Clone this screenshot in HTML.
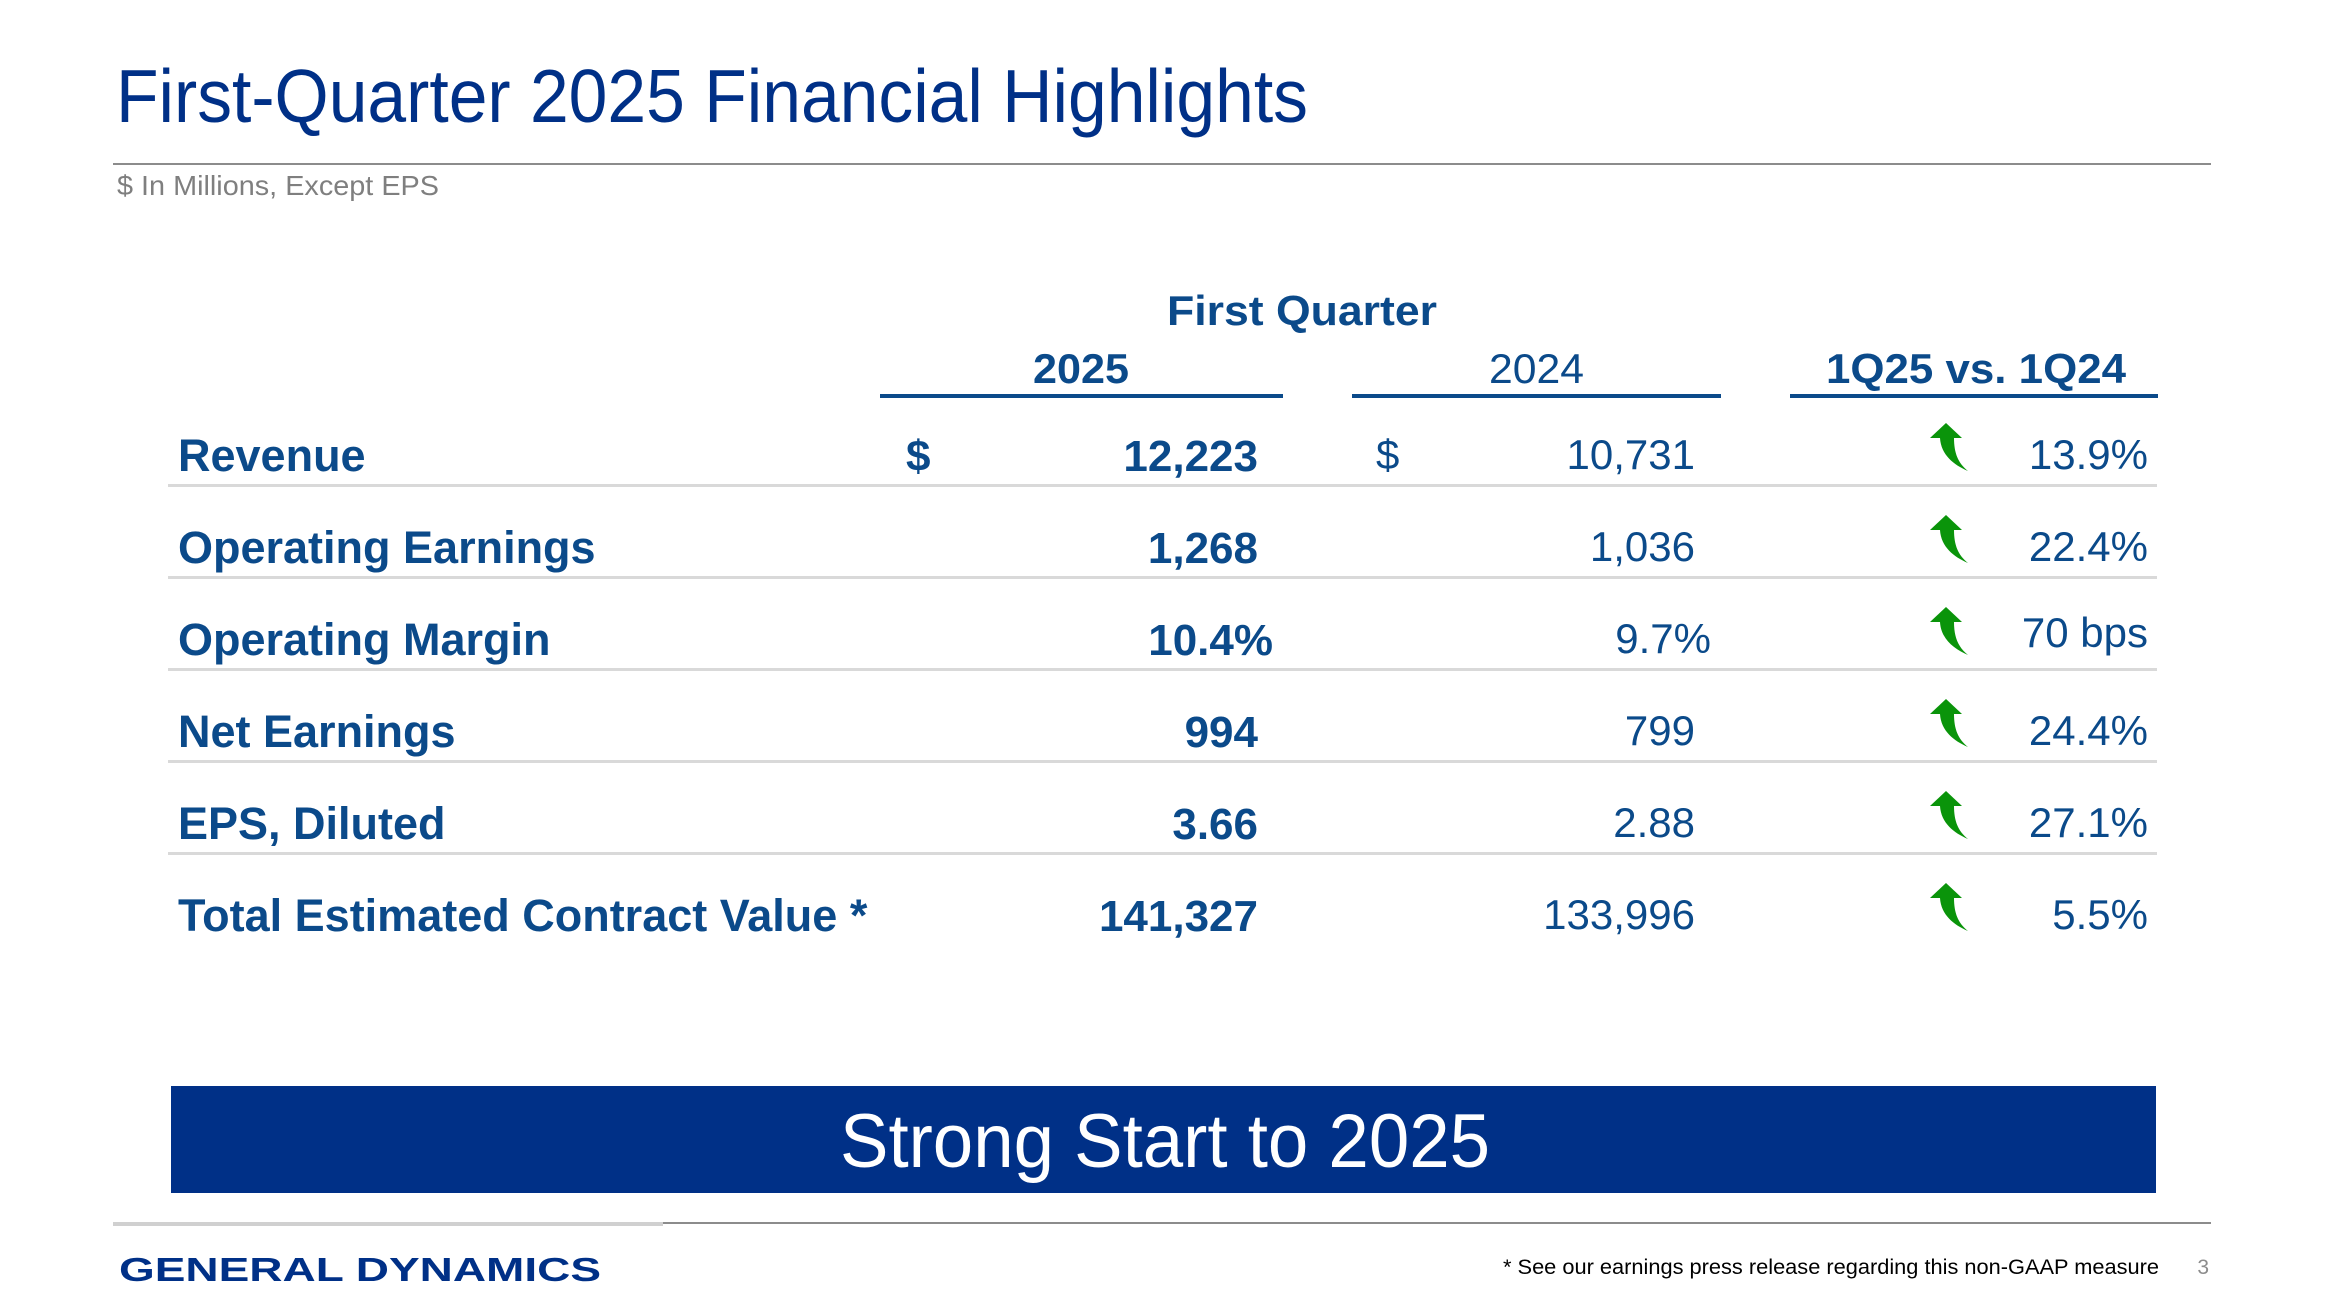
<!DOCTYPE html>
<html><head><meta charset="utf-8"><style>
html,body{margin:0;padding:0;background:#fff;}
svg{display:block;font-family:"Liberation Sans",Arial,sans-serif;}
</style></head><body>
<svg id="slide" width="2327" height="1309" viewBox="0 0 2327 1309" xmlns="http://www.w3.org/2000/svg">
<text x="116" y="122" font-size="75" fill="#003087" textLength="1192" lengthAdjust="spacingAndGlyphs">First-Quarter 2025 Financial Highlights</text>
<rect x="113" y="163" width="2098" height="2" fill="#8c8c8c"/>
<text x="117" y="195" font-size="28" fill="#7f7f7f" textLength="322" lengthAdjust="spacingAndGlyphs">$ In Millions, Except EPS</text>

<text x="1167" y="325" font-size="42" font-weight="bold" fill="#0b4a8a" textLength="270" lengthAdjust="spacingAndGlyphs">First Quarter</text>
<text x="1033" y="383" font-size="42" font-weight="bold" fill="#0b4a8a" textLength="96" lengthAdjust="spacingAndGlyphs">2025</text>
<text x="1489" y="383" font-size="42" fill="#0b4a8a" textLength="95" lengthAdjust="spacingAndGlyphs">2024</text>
<text x="1826" y="383" font-size="42" font-weight="bold" fill="#0b4a8a" textLength="300" lengthAdjust="spacingAndGlyphs">1Q25 vs. 1Q24</text>
<rect x="880" y="394" width="403" height="4" fill="#0b4a8a"/>
<rect x="1352" y="394" width="369" height="4" fill="#0b4a8a"/>
<rect x="1790" y="394" width="368" height="4" fill="#0b4a8a"/>
<g id="rows"></g>

<rect x="171" y="1086" width="1985" height="107" fill="#003087"/>
<text x="840" y="1167" font-size="76" fill="#fff" textLength="650" lengthAdjust="spacingAndGlyphs">Strong Start to 2025</text>
<rect x="113" y="1222" width="2098" height="2" fill="#8c8c8c"/>
<rect x="113" y="1222" width="550" height="4" fill="#d0d0d0"/>
<text x="119" y="1281" font-size="33" font-weight="bold" fill="#003087" textLength="482" lengthAdjust="spacingAndGlyphs">GENERAL DYNAMICS</text>
<text x="2159" y="1274" font-size="21" fill="#000" text-anchor="end" textLength="656" lengthAdjust="spacingAndGlyphs">* See our earnings press release regarding this non-GAAP measure</text>
<text x="2209" y="1274" font-size="21" fill="#8c8c8c" text-anchor="end">3</text>
</svg>
<script>
const labels = ["Revenue","Operating Earnings","Operating Margin","Net Earnings","EPS, Diluted","Total Estimated Contract Value *"];
const values2025 = ["12,223","1,268","10.4%","994","3.66","141,327"];
const values2024 = ["10,731","1,036","9.7%","799","2.88","133,996"];
const changes = ["13.9%","22.4%","70 bps","24.4%","27.1%","5.5%"];
const NS = "http://www.w3.org/2000/svg";
const g = document.getElementById("rows");
function t(x, y, s, size, weight, anchor){
  const e = document.createElementNS(NS,"text");
  e.setAttribute("x",x); e.setAttribute("y",y);
  e.setAttribute("font-size",size);
  if(weight) e.setAttribute("font-weight",weight);
  if(anchor) e.setAttribute("text-anchor",anchor);
  e.setAttribute("fill","#0b4a8a");
  e.textContent = s; g.appendChild(e); return e;
}
labels.forEach((lab,i)=>{
  const y = 471 + i*92;
  const l = t(178, y, lab, 45, "bold");
  
  
  const pct25 = values2025[i].endsWith("%");
  const v1 = t(pct25 ? 1273 : 1258, y, values2025[i], 44, "bold", "end");
  
  
  const pct24 = values2024[i].endsWith("%");
  const v2 = t(pct24 ? 1711 : 1695, y - 2, values2024[i], 42, null, "end");
  
  
  const c = t(2148, y - 2 - (changes[i].includes("bps") ? 6 : 0), changes[i], 42, null, "end");
  
  
  const a = document.createElementNS(NS,"path");
  const ty = y - 48;
  a.setAttribute("d", `M1946,${ty} L1962,${ty+15} L1954,${ty+15} C1954,${ty+30} 1958,${ty+40} 1968,${ty+48} C1954,${ty+42} 1941,${ty+32} 1940,${ty+15} L1930,${ty+15} Z`);
  a.setAttribute("fill","#0a940a");
  
  
  g.appendChild(a);
  if(i === 0){
    const d1 = t(906, y, "$", 44, "bold");
    
    
    const d2 = t(1376, y - 2, "$", 42);
    
    
  }
  if(i < labels.length - 1){
    const r = document.createElementNS(NS,"rect");
    r.setAttribute("x",168); r.setAttribute("y", 484 + i*92);
    r.setAttribute("width",1989); r.setAttribute("height",3);
    r.setAttribute("fill","#d9d9d9");
    
    
    g.appendChild(r);
  }
});
</script>
</body></html>
